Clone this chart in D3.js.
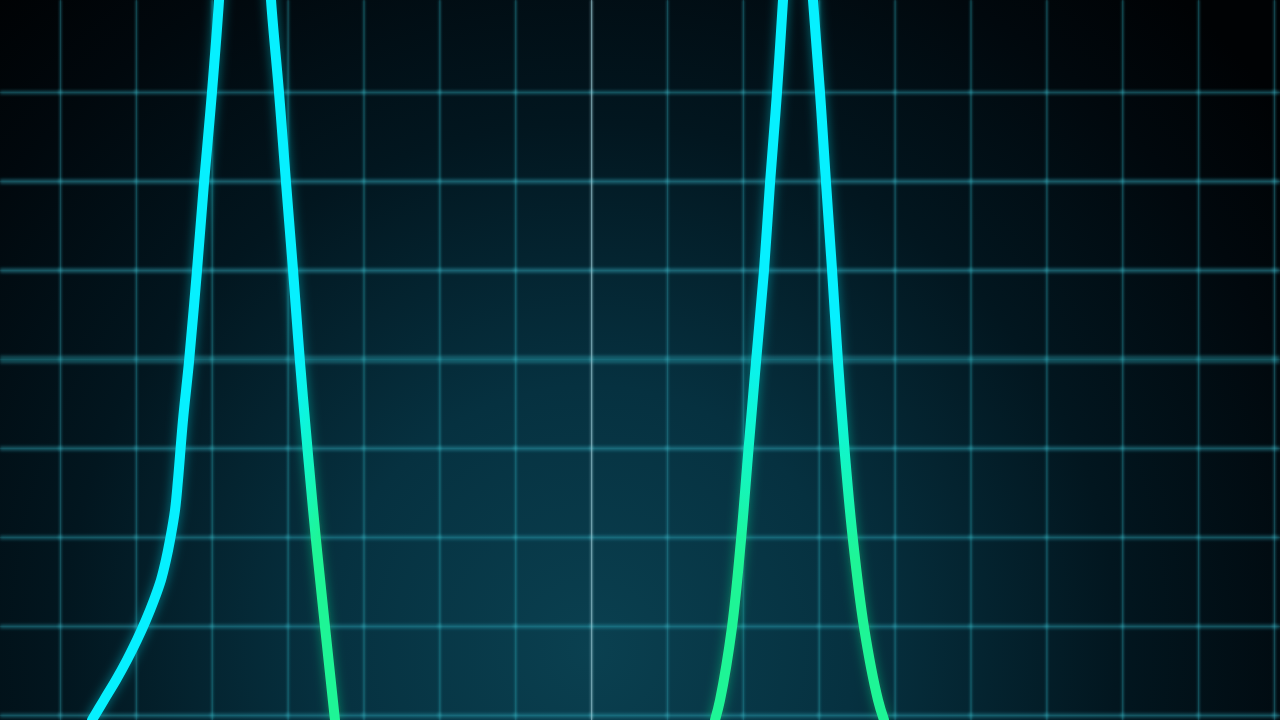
<!DOCTYPE html>
<html>
<head>
<meta charset="utf-8">
<script src="https://cdn.jsdelivr.net/npm/d3@7"></script>
<style>
html,body{margin:0;padding:0;background:#01070b;overflow:hidden;}
svg{display:block;}
</style>
</head>
<body>
<svg id="chart" width="1280" height="720"></svg>
<script>
// ---- data (grid units) ----
const xGrid = [0,1,2,3,4,5,6,7,8,9,10,11,12,13,14,15,16];
const yGrid = [0,1,2,3,4,5,6,7];

const peak1X = [0.422,0.580,0.738,0.883,1.015,1.133,1.239,1.331,1.397,1.450,1.516,1.555,1.621,1.700,1.806,1.898,2.003,2.096,2.161,2.227,2.320,2.438,2.557,2.649,2.715,2.781,2.886,2.979,3.071,3.163,3.269,3.374,3.493,3.624];
const peak1Y = [-0.056,0.169,0.393,0.618,0.843,1.067,1.292,1.517,1.742,1.966,2.303,2.640,3.315,3.966,5.000,5.978,7.000,8.034,9.067,9.944,10.618,10.899,10.618,9.944,9.067,8.034,7.000,5.978,5.000,3.966,2.921,1.966,0.989,-0.056];

const peak2X = [8.633,8.699,8.857,8.975,9.068,9.173,9.279,9.358,9.450,9.529,9.595,9.661,9.727,9.792,9.858,9.924,10.016,10.096,10.175,10.254,10.346,10.451,10.596,10.781,10.860];
const peak2Y = [-0.056,0.169,0.989,1.966,2.921,3.966,5.000,5.978,7.000,8.034,8.933,9.607,9.831,9.607,8.933,8.034,7.000,5.978,5.000,3.966,2.921,1.966,0.989,0.169,-0.056];

// ---- setup ----
const W = 1280, H = 720;
const svg = d3.select("#chart");
const x = d3.scaleLinear().domain([0,16]).range([60,1274]);
const y = d3.scaleLinear().domain([0,7]).range([715,92]);

const defs = svg.append("defs");

// background radial gradient
const bg = defs.append("radialGradient").attr("id","bg")
  .attr("gradientUnits","userSpaceOnUse")
  .attr("cx",590).attr("cy",650).attr("r",880);
bg.append("stop").attr("offset",0).attr("stop-color","#0a4050");
bg.append("stop").attr("offset",0.3).attr("stop-color","#063140");
bg.append("stop").attr("offset",0.6).attr("stop-color","#02161f");
bg.append("stop").attr("offset",0.85).attr("stop-color","#01080d");
bg.append("stop").attr("offset",1).attr("stop-color","#000204");
svg.append("rect").attr("width",W).attr("height",H).attr("fill","url(#bg)");

// filters (user space so zero-height lines still render)
function blurFilter(id, sd){
  const f = defs.append("filter").attr("id",id)
    .attr("filterUnits","userSpaceOnUse")
    .attr("x",-50).attr("y",-50).attr("width",W+100).attr("height",H+100);
  f.append("feGaussianBlur").attr("stdDeviation",sd);
}
blurFilter("gridglow", 1.8);
blurFilter("vglow", 1.2);
blurFilter("lineglow", 5);

// ---- grid via axes ----
const hWidth = d => ({0:4,1:4,2:4,3:4.5,4:8,5:5,6:5,7:3.5})[d];
const gy = svg.append("g").attr("class","ygrid")
  .call(d3.axisLeft(y).tickValues(yGrid).tickSize(-W).tickFormat(""));
gy.select(".domain").remove();
gy.selectAll(".tick line")
  .attr("x1",0).attr("x2",W)
  .attr("stroke","#2aa2b4")
  .attr("stroke-opacity",d=> d===4 ? 0.38 : 0.42)
  .attr("stroke-width",d=>hWidth(d))
  .attr("filter","url(#gridglow)");
// faint core
const gy2 = svg.append("g")
  .call(d3.axisLeft(y).tickValues(yGrid).tickSize(-W).tickFormat(""));
gy2.select(".domain").remove();
gy2.selectAll(".tick line").attr("x1",0).attr("x2",W)
  .attr("stroke","#3cc3d2").attr("stroke-opacity",0.12).attr("stroke-width",1.5);

const gx = svg.append("g").attr("class","xgrid")
  .call(d3.axisTop(x).tickValues(xGrid).tickSize(-H).tickFormat(""));
gx.select(".domain").remove();
gx.selectAll(".tick line")
  .attr("y1",0).attr("y2",H)
  .attr("stroke",(d)=> d===7 ? "#8fc3cf" : "#2c9aa8")
  .attr("stroke-opacity",(d)=> d===7 ? 0.45 : 0.35)
  .attr("stroke-width",2.5)
  .attr("filter","url(#vglow)");
const gx2 = svg.append("g")
  .call(d3.axisTop(x).tickValues(xGrid).tickSize(-H).tickFormat(""));
gx2.select(".domain").remove();
gx2.selectAll(".tick line").attr("y1",0).attr("y2",H)
  .attr("stroke",(d)=> d===7 ? "#a5d2dc" : "#34a8b6")
  .attr("stroke-opacity",(d)=> d===7 ? 0.55 : 0.22)
  .attr("stroke-width",1.2);

// intersection glow dots
const pts = [];
xGrid.forEach(a=>yGrid.forEach(b=>pts.push([a,b])));
svg.append("g").selectAll("circle").data(pts).join("circle")
  .attr("cx",d=>x(d[0])).attr("cy",d=>y(d[1])).attr("r",2.2)
  .attr("fill","#4fd2df").attr("opacity",0.2).attr("filter","url(#gridglow)");

// ---- gradients for lines ----
function lineGrad(id, x1, y1, x2, y2){
  const g = defs.append("linearGradient").attr("id",id)
    .attr("gradientUnits","userSpaceOnUse")
    .attr("x1",x1).attr("y1",y1).attr("x2",x2).attr("y2",y2);
  g.append("stop").attr("offset",0).attr("stop-color","#06f0ff");
  g.append("stop").attr("offset",0.45).attr("stop-color","#0ff6d2");
  g.append("stop").attr("offset",1).attr("stop-color","#1ef596");
}
// peak 1: diagonal (left leg stays cyan)
lineGrad("g1", 300, 345, 300+0.906*100, 345+0.423*100);
// peak 2: vertical
lineGrad("g2", 0, 320, 0, 560);

const line = d3.line().x(d=>x(d[0])).y(d=>y(d[1])).curve(d3.curveCatmullRom.alpha(0.5));
const series = [
  {id:"g1", pts: peak1X.map((v,i)=>[v,peak1Y[i]])},
  {id:"g2", pts: peak2X.map((v,i)=>[v,peak2Y[i]])}
];

const lg = svg.append("g");
series.forEach(s=>{
  lg.append("path").attr("d",line(s.pts)).attr("fill","none")
    .attr("stroke",`url(#${s.id})`).attr("stroke-width",14)
    .attr("stroke-opacity",0.3).attr("filter","url(#lineglow)");
  lg.append("path").attr("d",line(s.pts)).attr("fill","none")
    .attr("stroke",`url(#${s.id})`).attr("stroke-width",10)
    .attr("stroke-linecap","round").attr("stroke-linejoin","round");
});
</script>
</body>
</html>
